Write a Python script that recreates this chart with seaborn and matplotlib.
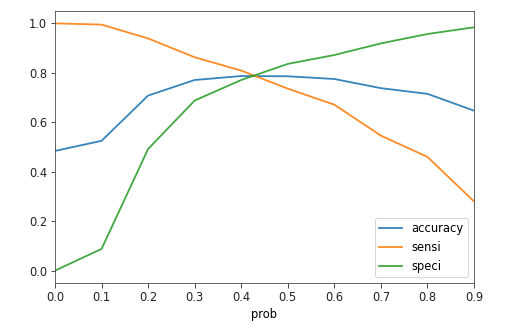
import matplotlib
matplotlib.use("Agg")
import matplotlib.pyplot as plt
import pandas as pd
import seaborn as sns


prob = [0.0, 0.1, 0.2, 0.3, 0.4, 0.5, 0.6, 0.7, 0.8, 0.9]
accuracy = [0.484, 0.525, 0.708, 0.771, 0.787, 0.786, 0.775, 0.738, 0.715, 0.647]
sensi = [1.0, 0.995, 0.939, 0.863, 0.809, 0.736, 0.671, 0.546, 0.460, 0.280]
speci = [0.0, 0.088, 0.492, 0.688, 0.771, 0.836, 0.872, 0.919, 0.957, 0.984]

plt.rcParams["font.size"] = 11.5


#
df = pd.DataFrame({"prob": prob, "accuracy": accuracy, "sensi": sensi, "speci": speci})
long_df = df.melt(id_vars="prob", var_name="metric", value_name="value")

fig = plt.figure(figsize=(530 / 72, 330 / 72), dpi=72)
ax = fig.add_axes([55 / 530, 1 - 283 / 330, 419 / 530, 272 / 330])

sns.lineplot(data=long_df, x="prob", y="value", hue="metric",
             palette=["#1f77b4", "#ff7f0e", "#2ca02c"], linewidth=1.8,
             alpha=0.9, ax=ax)

for side in ax.spines.values():
    side.set_color("#444444")
ax.tick_params(colors="#222222", length=4.5)

ax.set_xlim(0.0, 0.9)
ax.set_xticks(prob)
ax.set_xlabel("prob")
ax.set_ylabel("")
ax.legend(loc="lower right")

fig.savefig("out.png", dpi=72)
plt.close(fig)
